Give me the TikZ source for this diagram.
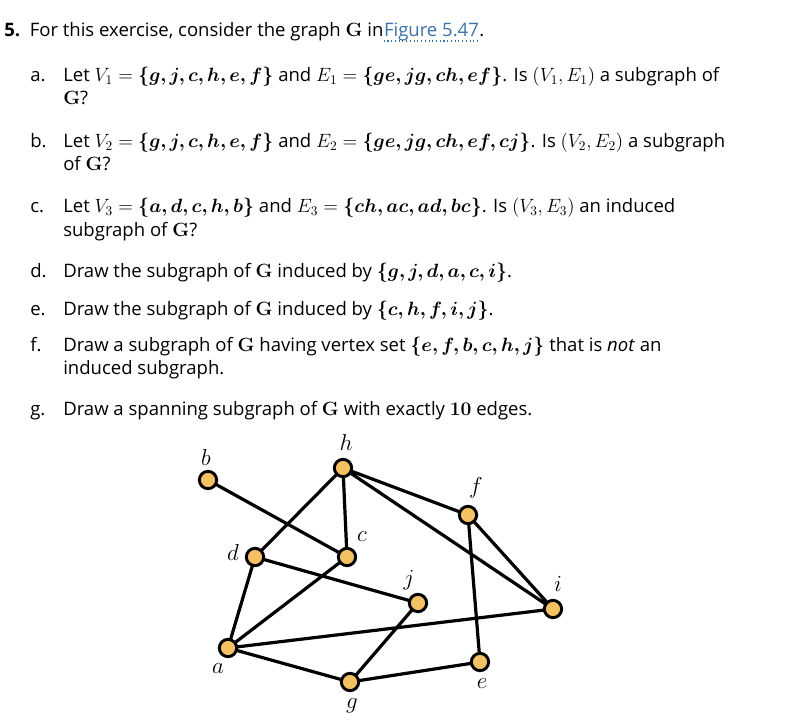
\documentclass[tikz,border=0pt]{standalone}
\usepackage{amsmath,bm}
\usepackage[no-math]{fontspec}
\setmainfont{Open Sans}
\definecolor{nodeor}{HTML}{F6C163}
\definecolor{linkblue}{HTML}{3A72A8}
\begin{document}
\begin{tikzpicture}[x=0.75pt,y=-0.75pt,
  txt/.style={anchor=base west,inner sep=0pt,font=\fontsize{13.9}{16}\selectfont},
  vert/.style={circle,draw=black,line width=2.2pt,fill=nodeor,minimum size=13pt,inner sep=0pt},
  edge/.style={line width=2.4pt},
  lab/.style={font=\fontsize{18}{18}\selectfont}]
\useasboundingbox (0,0) rectangle (797,723);
\node[txt] (t0) at (4,37) {\textbf{5.}\ \ For this exercise, consider the graph $\mathbf{G}$ in\ };
\node[txt,text=linkblue] (fig) at (t0.base east) {Figure 5.47};
\node[txt] (dot) at (fig.base east) {.};
\draw[linkblue,dotted,thick] ([yshift=-3pt]fig.base west) -- ([yshift=-3pt]fig.base east);
\node[txt] (la) at (30,82) {a.};
\node[txt] (ta) at (63,82) {Let $V_1=\bm{\{g,j,c,h,e,f\}}$ and $E_1=\bm{\{ge,jg,ch,ef\}}$. Is $(V_1,E_1)$ a subgraph of};
\node[txt] (ta2) at (63,105) {$\mathbf{G}$?};
\node[txt] (lb) at (30,148) {b.};
\node[txt] (tb) at (63,148) {Let $V_2=\bm{\{g,j,c,h,e,f\}}$ and $E_2=\bm{\{ge,jg,ch,ef,cj\}}$. Is $(V_2,E_2)$ a subgraph};
\node[txt] (tb2) at (63,171) {of $\mathbf{G}$?};
\node[txt] (lc) at (30,213) {c.};
\node[txt] (tc) at (63,213) {Let $V_3=\bm{\{a,d,c,h,b\}}$ and $E_3=\bm{\{ch,ac,ad,bc\}}$. Is $(V_3,E_3)$ an induced};
\node[txt] (tc2) at (63,237) {subgraph of $\mathbf{G}$?};
\node[txt] (ld) at (30,278) {d.};
\node[txt] (td) at (63,278) {Draw the subgraph of $\mathbf{G}$ induced by $\bm{\{g,j,d,a,c,i\}}$.};
\node[txt] (le) at (30,316) {e.};
\node[txt] (te) at (63,316) {Draw the subgraph of $\mathbf{G}$ induced by $\bm{\{c,h,f,i,j\}}$.};
\node[txt] (lf) at (30,352) {f.};
\node[txt] (tf) at (63,352) {Draw a subgraph of $\mathbf{G}$ having vertex set $\bm{\{e,f,b,c,h,j\}}$ that is \textit{not} an};
\node[txt] (tf2) at (63,375) {induced subgraph.};
\node[txt] (lg) at (30,416) {g.};
\node[txt] (tg) at (63,416) {Draw a spanning subgraph of $\mathbf{G}$ with exactly $\mathbf{10}$ edges.};

\coordinate (pb) at (208,480);
\coordinate (ph) at (343,468);
\coordinate (pf) at (468,515);
\coordinate (pd) at (255,557);
\coordinate (pc) at (347,557);
\coordinate (pj) at (418,603);
\coordinate (pi) at (553,609);
\coordinate (pa) at (228,648);
\coordinate (pe) at (480,662);
\coordinate (pg) at (350,682);
\draw[edge] (pb)--(pc) (ph)--(pd) (ph)--(pc) (ph)--(pf) (ph)--(pi) (pf)--(pi) (pf)--(pe)
  (pd)--(pj) (pd)--(pa) (pc)--(pa) (pa)--(pi) (pa)--(pg) (pg)--(pj) (pg)--(pe);
\foreach \v in {b,h,f,d,c,j,i,a,e,g} \node[vert] (\v) at (p\v) {};
\node[lab] (lbb) at (206,458) {$b$};
\node[lab] (lbh) at (346,443) {$h$};
\node[lab] (lbf) at (476,488) {$f$};
\node[lab] (lbc) at (362,537) {$c$};
\node[lab] (lbd) at (233,553) {$d$};
\node[lab] (lbj) at (409,580) {$j$};
\node[lab] (lbi) at (558,584) {$i$};
\node[lab] (lba) at (218,669) {$a$};
\node[lab] (lbe) at (482,684) {$e$};
\node[lab] (lbg) at (352,706) {$g$};
\end{tikzpicture}
\end{document}
